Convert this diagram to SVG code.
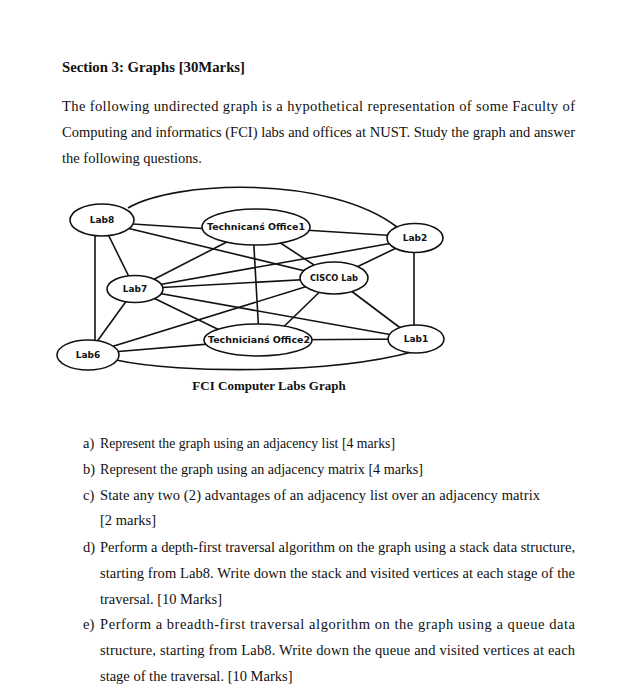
<svg xmlns="http://www.w3.org/2000/svg" width="636" height="700" viewBox="0 0 636 700">
<style>
.t{font-family:"Liberation Serif","Times New Roman",serif;font-size:14.5px;fill:#111}
.h{font-family:"Liberation Serif","Times New Roman",serif;font-size:15px;font-weight:bold;fill:#111}
.cap{font-family:"Liberation Serif","Times New Roman",serif;font-size:13px;font-weight:bold;fill:#111}
.n ellipse{fill:#fff;stroke:#111;stroke-width:1.6}
.n text{font-family:"DejaVu Sans",Verdana,sans-serif;font-size:9px;font-weight:bold;fill:#111;text-anchor:middle}
.e line,.e path{stroke:#111;stroke-width:1.6;fill:none}
</style>
<rect width="636" height="700" fill="#fff"/>
<text class="h" x="62" y="72" textLength="183" lengthAdjust="spacingAndGlyphs">Section 3: Graphs [30Marks]</text>
<text class="t" x="62" y="111" textLength="513" lengthAdjust="spacing">The following undirected graph is a hypothetical representation of some Faculty of</text>
<text class="t" x="62" y="137" textLength="513" lengthAdjust="spacing">Computing and informatics (FCI) labs and offices at NUST. Study the graph and answer</text>
<text class="t" x="62" y="163">the following questions.</text>

<g class="e" id="connectors">
<path d="M128,208 C175,180 330,175 397,227"/>
<line x1="102" y1="222" x2="256" y2="232"/>
<line x1="102" y1="222" x2="334" y2="278"/>
<line x1="102" y1="222" x2="135" y2="289"/>
<line x1="95" y1="222" x2="95" y2="354"/>
<line x1="135" y1="289" x2="256" y2="227"/>
<line x1="135" y1="289" x2="415" y2="239"/>
<line x1="135" y1="289" x2="334" y2="278"/>
<line x1="135" y1="289" x2="415" y2="339"/>
<line x1="135" y1="289" x2="240" y2="340"/>
<line x1="135" y1="289" x2="88" y2="354"/>
<line x1="88" y1="354" x2="334" y2="278"/>
<line x1="88" y1="354" x2="258" y2="340"/>
<path d="M116,360 C180,374 330,374 412,352"/>
<line x1="256" y1="227" x2="415" y2="237"/>
<line x1="256" y1="227" x2="334" y2="278"/>
<line x1="253" y1="230" x2="259" y2="336"/>
<line x1="334" y1="278" x2="415" y2="239"/>
<line x1="334" y1="278" x2="270" y2="340"/>
<line x1="334" y1="278" x2="415" y2="339"/>
<line x1="258" y1="340" x2="415" y2="339"/>
<line x1="414" y1="239" x2="414" y2="339"/>
</g>

<g class="n" id="lab8"><ellipse cx="102" cy="220" rx="32" ry="16"/><text x="102" y="223">Lab8</text></g>
<g class="n" id="office1"><ellipse cx="256" cy="227" rx="54" ry="18"/><text x="256" y="230" textLength="98" lengthAdjust="spacingAndGlyphs">Technicanś Office1</text></g>
<g class="n" id="lab2"><ellipse cx="415" cy="238" rx="28" ry="14.5"/><text x="415" y="241">Lab2</text></g>
<g class="n" id="cisco"><ellipse cx="334" cy="278" rx="34" ry="16"/><text x="334" y="281" textLength="48" lengthAdjust="spacingAndGlyphs">CISCO Lab</text></g>
<g class="n" id="lab7"><ellipse cx="135" cy="289" rx="28" ry="13.5"/><text x="135" y="292">Lab7</text></g>
<g class="n" id="office2"><ellipse cx="258" cy="340" rx="54" ry="16"/><text x="259" y="343" textLength="102" lengthAdjust="spacingAndGlyphs">Technicianś  Office2</text></g>
<g class="n" id="lab1"><ellipse cx="416" cy="339" rx="28" ry="14"/><text x="416" y="342">Lab1</text></g>
<g class="n" id="lab6"><ellipse cx="88" cy="355" rx="31" ry="15"/><text x="88" y="358">Lab6</text></g>

<text class="cap" x="269" y="390" text-anchor="middle">FCI Computer Labs Graph</text>

<text class="t" x="83" y="448">a)</text>
<text class="t" x="100" y="448" textLength="295" lengthAdjust="spacingAndGlyphs">Represent the graph using an adjacency list [4 marks]</text>
<text class="t" x="83" y="474">b)</text>
<text class="t" x="100" y="474" textLength="323" lengthAdjust="spacingAndGlyphs">Represent the graph using an adjacency matrix [4 marks]</text>
<text class="t" x="83" y="500">c)</text>
<text class="t" x="100" y="500" textLength="440" lengthAdjust="spacing">State any two (2) advantages of an adjacency list over an adjacency matrix</text>
<text class="t" x="100" y="525">[2 marks]</text>
<text class="t" x="83" y="552">d)</text>
<text class="t" x="100" y="552" textLength="475" lengthAdjust="spacing">Perform a depth-first traversal algorithm on the graph using a stack data structure,</text>
<text class="t" x="100" y="578" textLength="475" lengthAdjust="spacing">starting from Lab8. Write down the stack and visited vertices at each stage of the</text>
<text class="t" x="100" y="604">traversal. [10 Marks]</text>
<text class="t" x="83" y="629">e)</text>
<text class="t" x="100" y="629" textLength="475" lengthAdjust="spacing">Perform a breadth-first traversal algorithm on the graph using a queue data</text>
<text class="t" x="100" y="655" textLength="475" lengthAdjust="spacing">structure, starting from Lab8. Write down the queue and visited vertices at each</text>
<text class="t" x="100" y="681">stage of the traversal. [10 Marks]</text>
</svg>
